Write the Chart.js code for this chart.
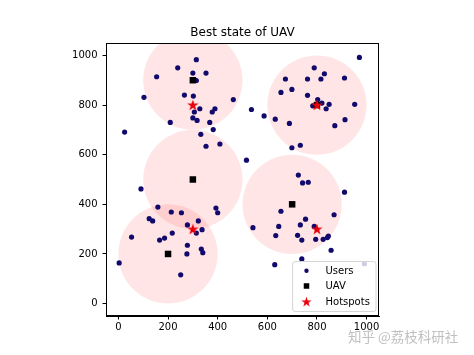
<!DOCTYPE html>
<html><head><meta charset="utf-8">
<script src="https://cdn.jsdelivr.net/npm/chart.js@4.4.0/dist/chart.umd.min.js"></script>
<style>
html,body{margin:0;padding:0;background:#fff;}
#wrap{position:relative;width:474px;height:355px;}
#wm{position:absolute;left:348px;top:326px;font:13.5px "Noto Sans CJK SC";color:rgba(185,185,185,0.9);white-space:nowrap;}
</style></head><body>
<div id="wrap"><canvas id="c" width="474" height="355"></canvas><div id="wm">知乎 @荔枝科研社</div></div>
<script>
const titleText = 'Best state of UAV';
const seriesLabels = ['Users', 'UAV', 'Hotspots'];
const usersX = [314,239,154,300,353,314,103,266,302,463,328,389,378,306,209,300,317,368,25,382,332,353,409,536,587,632,689,516,699,673,655,699,725,
  971,789,830,762,816,911,762,803,783,820,849,837,952,913,872,733,
  91,159,213,254,393,400,124,138,278,322,314,337,53,217,186,166,278,334,340,276,3,251,655,542,646,634,722,630,
  742,765,911,869,754,733,789,739,795,825,842,846,857,739,991];
const usersY = [983,950,914,929,929,899,831,840,836,822,785,785,772,772,730,748,738,730,691,701,682,634,643,782,756,743,726,578,628,905,851,863,518,
  992,950,926,905,905,909,839,822,797,808,803,785,803,741,717,638,
  462,389,369,366,385,366,342,333,317,333,284,298,268,284,264,256,235,220,205,200,164,116,372,306,311,274,275,157,
  486,489,449,358,340,317,311,256,259,259,266,272,215,180,161];
const uavX = [300, 300, 200, 700, 800];
const uavY = [900, 500, 200, 400, 800];
const hotspotX = [300, 800, 300, 800];
const hotspotY = [800, 800, 300, 300];
const coverageRadius = 200;
const xTickValues = [0, 200, 400, 600, 800, 1000];
const xTickLabels = ['0', '200', '400', '600', '800', '1000'];
const yTickValues = [0, 200, 400, 600, 800, 1000];
const yTickLabels = ['0', '200', '400', '600', '800', '1000'];

function zip(xs, ys){ return xs.map((x,i)=>({x:x, y:ys[i]})); }
function makeStar(size, color){
  const c = document.createElement('canvas'); c.width = c.height = size;
  const g = c.getContext('2d'); const cx = size/2, cy = size/2 + 0.4, R = size/2, r = R*0.382;
  g.beginPath();
  for (let i=0;i<10;i++){ const a = -Math.PI/2 + i*Math.PI/5; const rr = i%2 ? r : R; g.lineTo(cx+rr*Math.cos(a), cy+rr*Math.sin(a)); }
  g.closePath(); g.fillStyle = color; g.fill(); return c;
}
const starImg = makeStar(12, '#e8000b');
const starLegend = makeStar(11, '#e8000b');
const tickFont = {family:'DejaVu Sans', size:10};

const frame = {id:'frame', afterDatasetsDraw(chart){
  const a = chart.chartArea, ctx = chart.ctx; ctx.save();
  ctx.strokeStyle = '#000'; ctx.lineWidth = 1;
  ctx.strokeRect(Math.round(a.left)+0.5, Math.round(a.top)+0.5, Math.round(a.right-a.left)-1, Math.round(a.bottom-a.top)-1);
  ctx.restore();
}};
const axTitle = {id:'axTitle', afterDraw(chart){
  const a = chart.chartArea, ctx = chart.ctx; ctx.save();
  ctx.fillStyle = '#000'; ctx.font = '12px "DejaVu Sans"'; ctx.textAlign = 'center'; ctx.textBaseline = 'alphabetic';
  ctx.fillText(titleText, (a.left + a.right)/2, a.top - 7.3);
  ctx.restore();
}};
const legendRadius = [2.2, 3.9, 0];
const legendImgs = [null, null, starLegend];
const boxLegend = {id:'boxLegend', afterDraw(chart){
  const {ctx, chartArea:a} = chart;
  const w = 83.4, h = 50, x0 = a.right - 3.5 - w, y0 = a.bottom - 5 - h;
  ctx.save();
  ctx.beginPath(); ctx.roundRect(x0+0.5, y0+0.5, w, h, 2.5);
  ctx.fillStyle = 'rgba(255,255,255,0.8)'; ctx.fill();
  ctx.strokeStyle = '#d6d6d6'; ctx.lineWidth = 1; ctx.stroke();
  const rows = [9.7, 25, 40.7];
  const sets = chart.data.datasets.filter(d => d.label);
  sets.forEach((ds, i) => {
    const mx = x0 + 14.4, my = y0 + rows[i];
    ctx.fillStyle = ds.backgroundColor;
    Chart.helpers.drawPoint(ctx, {pointStyle: legendImgs[i] || ds.pointStyle, radius: legendRadius[i], rotation: 0, borderWidth: 0}, mx, my);
    ctx.fillStyle = '#000'; ctx.font = '10px "DejaVu Sans"'; ctx.textBaseline = 'middle'; ctx.textAlign = 'left';
    ctx.fillText(ds.label, x0 + 33.4, my + 0.5);
  });
  ctx.restore();
}};

new Chart(document.getElementById('c'), {
  type: 'scatter',
  data: { datasets: [
    {label: seriesLabels[0], data: zip(usersX, usersY), backgroundColor: '#110a6c', pointRadius: 2.6, pointBorderWidth: 0, order: 3},
    {label: seriesLabels[1], data: zip(uavX, uavY), backgroundColor: '#000', pointStyle: 'rect', pointRadius: 4.6, pointBorderWidth: 0, order: 2},
    {label: seriesLabels[2], data: zip(hotspotX, hotspotY), backgroundColor: '#e8000b', pointStyle: starImg, pointRadius: 6, pointBorderWidth: 0, order: 1},
    {label: '', data: zip(uavX, uavY), backgroundColor: 'rgba(255,0,0,0.1)', pointBorderWidth: 0, order: 4, clip: 0,
     pointRadius: c => { const s = c.chart.scales.x; return Math.abs(s.getPixelForValue(coverageRadius) - s.getPixelForValue(0)); }}
  ]},
  options: {
    responsive: false, devicePixelRatio: 1, animation: false, events: [],
    layout: {padding: {left: 0, right: 95, top: 43, bottom: 0}},
    plugins: {
      legend: {display: false}, tooltip: {enabled: false}, title: {display: false}
    },
    scales: {
      x: {type: 'linear', position: 'bottom', min: -50, max: 1050,
        afterBuildTicks: s => { s.ticks = xTickValues.map(v => ({value: v})); },
        ticks: {callback: v => xTickLabels[xTickValues.indexOf(v)], color: '#000', font: tickFont, padding: 2, maxRotation: 0, autoSkip: false},
        grid: {drawOnChartArea: false, drawTicks: true, tickLength: 3.5, color: '#000', tickWidth: 1},
        border: {display: true, color: '#000', width: 1},
        afterFit: s => { s.height = 39; }},
      y: {type: 'linear', position: 'left', min: -50, max: 1050,
        afterBuildTicks: s => { s.ticks = yTickValues.map(v => ({value: v})); },
        ticks: {callback: v => yTickLabels[yTickValues.indexOf(v)], color: '#000', font: tickFont, padding: 5, autoSkip: false},
        grid: {drawOnChartArea: false, drawTicks: true, tickLength: 3.5, color: '#000', tickWidth: 1},
        border: {display: true, color: '#000', width: 1},
        afterFit: s => { s.width = 106; }}
    }
  },
  plugins: [frame, axTitle, boxLegend]
});
</script>
</body></html>
